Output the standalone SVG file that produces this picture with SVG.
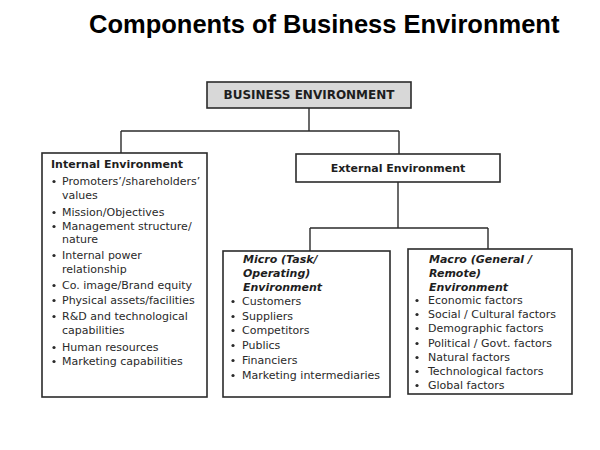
<svg xmlns="http://www.w3.org/2000/svg" width="600" height="450" viewBox="0 0 600 450">
<style>
.box{fill:#fff;stroke:#2b2b2b;stroke-width:1.6}
.top{fill:#d8d8d8;stroke:#2b2b2b;stroke-width:1.6}
.con{fill:none;stroke:#2b2b2b;stroke-width:1.4}
.h{font-family:"DejaVu Sans",Verdana,sans-serif;font-weight:bold;font-size:11px;fill:#1e1e1e}
.hi{font-family:"DejaVu Sans",Verdana,sans-serif;font-weight:bold;font-style:italic;font-size:11px;fill:#1e1e1e}
.t{font-family:"DejaVu Sans",Verdana,sans-serif;font-size:11px;fill:#2a2a2a}
.b{fill:#2a2a2a}
.title{font-family:"Liberation Sans",Arial,sans-serif;font-weight:bold;font-size:25.5px;fill:#000}
</style>
<text class="title" x="89" y="33">Components of Business Environment</text>
<g id="connectors">
<path class="con" d="M309 108 V131 M121 131 H399 M121 131 V153 M399 131 V154"/>
<path class="con" d="M398 182 V228 M310 228 H488 M310 228 V251 M488 228 V249"/>
</g>
<g id="business-environment">
<rect class="top" x="207" y="82" width="204" height="26"/>
<text class="h" x="309" y="99" text-anchor="middle" style="font-size:12px">BUSINESS ENVIRONMENT</text>
</g>
<g id="external-environment">
<rect class="box" x="296" y="154" width="204" height="28"/>
<text class="h" x="398" y="172" text-anchor="middle">External Environment</text>
</g>
<g id="internal-environment">
<rect class="box" x="42" y="153" width="165" height="244"/>
<text class="h" x="51" y="168">Internal Environment</text>
<g class="b">
<circle cx="54" cy="181.5" r="1.6"/><circle cx="54" cy="212.5" r="1.6"/><circle cx="54" cy="226.5" r="1.6"/>
<circle cx="54" cy="255.5" r="1.6"/><circle cx="54" cy="285.5" r="1.6"/><circle cx="54" cy="300.5" r="1.6"/>
<circle cx="54" cy="316.5" r="1.6"/><circle cx="54" cy="347.5" r="1.6"/><circle cx="54" cy="361.5" r="1.6"/>
</g>
<text class="t" x="62" y="185">Promoters’/shareholders’</text>
<text class="t" x="62" y="199">values</text>
<text class="t" x="62" y="216">Mission/Objectives</text>
<text class="t" x="62" y="230">Management structure/</text>
<text class="t" x="62" y="243">nature</text>
<text class="t" x="62" y="259">Internal power</text>
<text class="t" x="62" y="273">relationship</text>
<text class="t" x="62" y="289">Co. image/Brand equity</text>
<text class="t" x="62" y="304">Physical assets/facilities</text>
<text class="t" x="62" y="320">R&amp;D and technological</text>
<text class="t" x="62" y="334">capabilities</text>
<text class="t" x="62" y="351">Human resources</text>
<text class="t" x="62" y="365">Marketing capabilities</text>
</g>
<g id="micro-environment">
<rect class="box" x="223" y="251" width="167" height="146"/>
<text class="hi" x="243" y="263">Micro (Task/</text>
<text class="hi" x="243" y="277">Operating)</text>
<text class="hi" x="243" y="291">Environment</text>
<g class="b">
<circle cx="233" cy="301.5" r="1.6"/><circle cx="233" cy="316.5" r="1.6"/><circle cx="233" cy="330.5" r="1.6"/>
<circle cx="233" cy="345.5" r="1.6"/><circle cx="233" cy="360.5" r="1.6"/><circle cx="233" cy="375.5" r="1.6"/>
</g>
<text class="t" x="242" y="305">Customers</text>
<text class="t" x="242" y="320">Suppliers</text>
<text class="t" x="242" y="334">Competitors</text>
<text class="t" x="242" y="349">Publics</text>
<text class="t" x="242" y="364">Financiers</text>
<text class="t" x="242" y="379">Marketing intermediaries</text>
</g>
<g id="macro-environment">
<rect class="box" x="408" y="249" width="164" height="145"/>
<text class="hi" x="429" y="263">Macro (General /</text>
<text class="hi" x="429" y="277">Remote)</text>
<text class="hi" x="429" y="291">Environment</text>
<g class="b">
<circle cx="417" cy="300.5" r="1.6"/><circle cx="417" cy="314.5" r="1.6"/><circle cx="417" cy="328.5" r="1.6"/>
<circle cx="417" cy="343.5" r="1.6"/><circle cx="417" cy="357.5" r="1.6"/><circle cx="417" cy="371.5" r="1.6"/>
<circle cx="417" cy="385.5" r="1.6"/>
</g>
<text class="t" x="428" y="304">Economic factors</text>
<text class="t" x="428" y="318">Social / Cultural factors</text>
<text class="t" x="428" y="332">Demographic factors</text>
<text class="t" x="428" y="347">Political / Govt. factors</text>
<text class="t" x="428" y="361">Natural factors</text>
<text class="t" x="428" y="375">Technological factors</text>
<text class="t" x="428" y="389">Global factors</text>
</g>
</svg>
